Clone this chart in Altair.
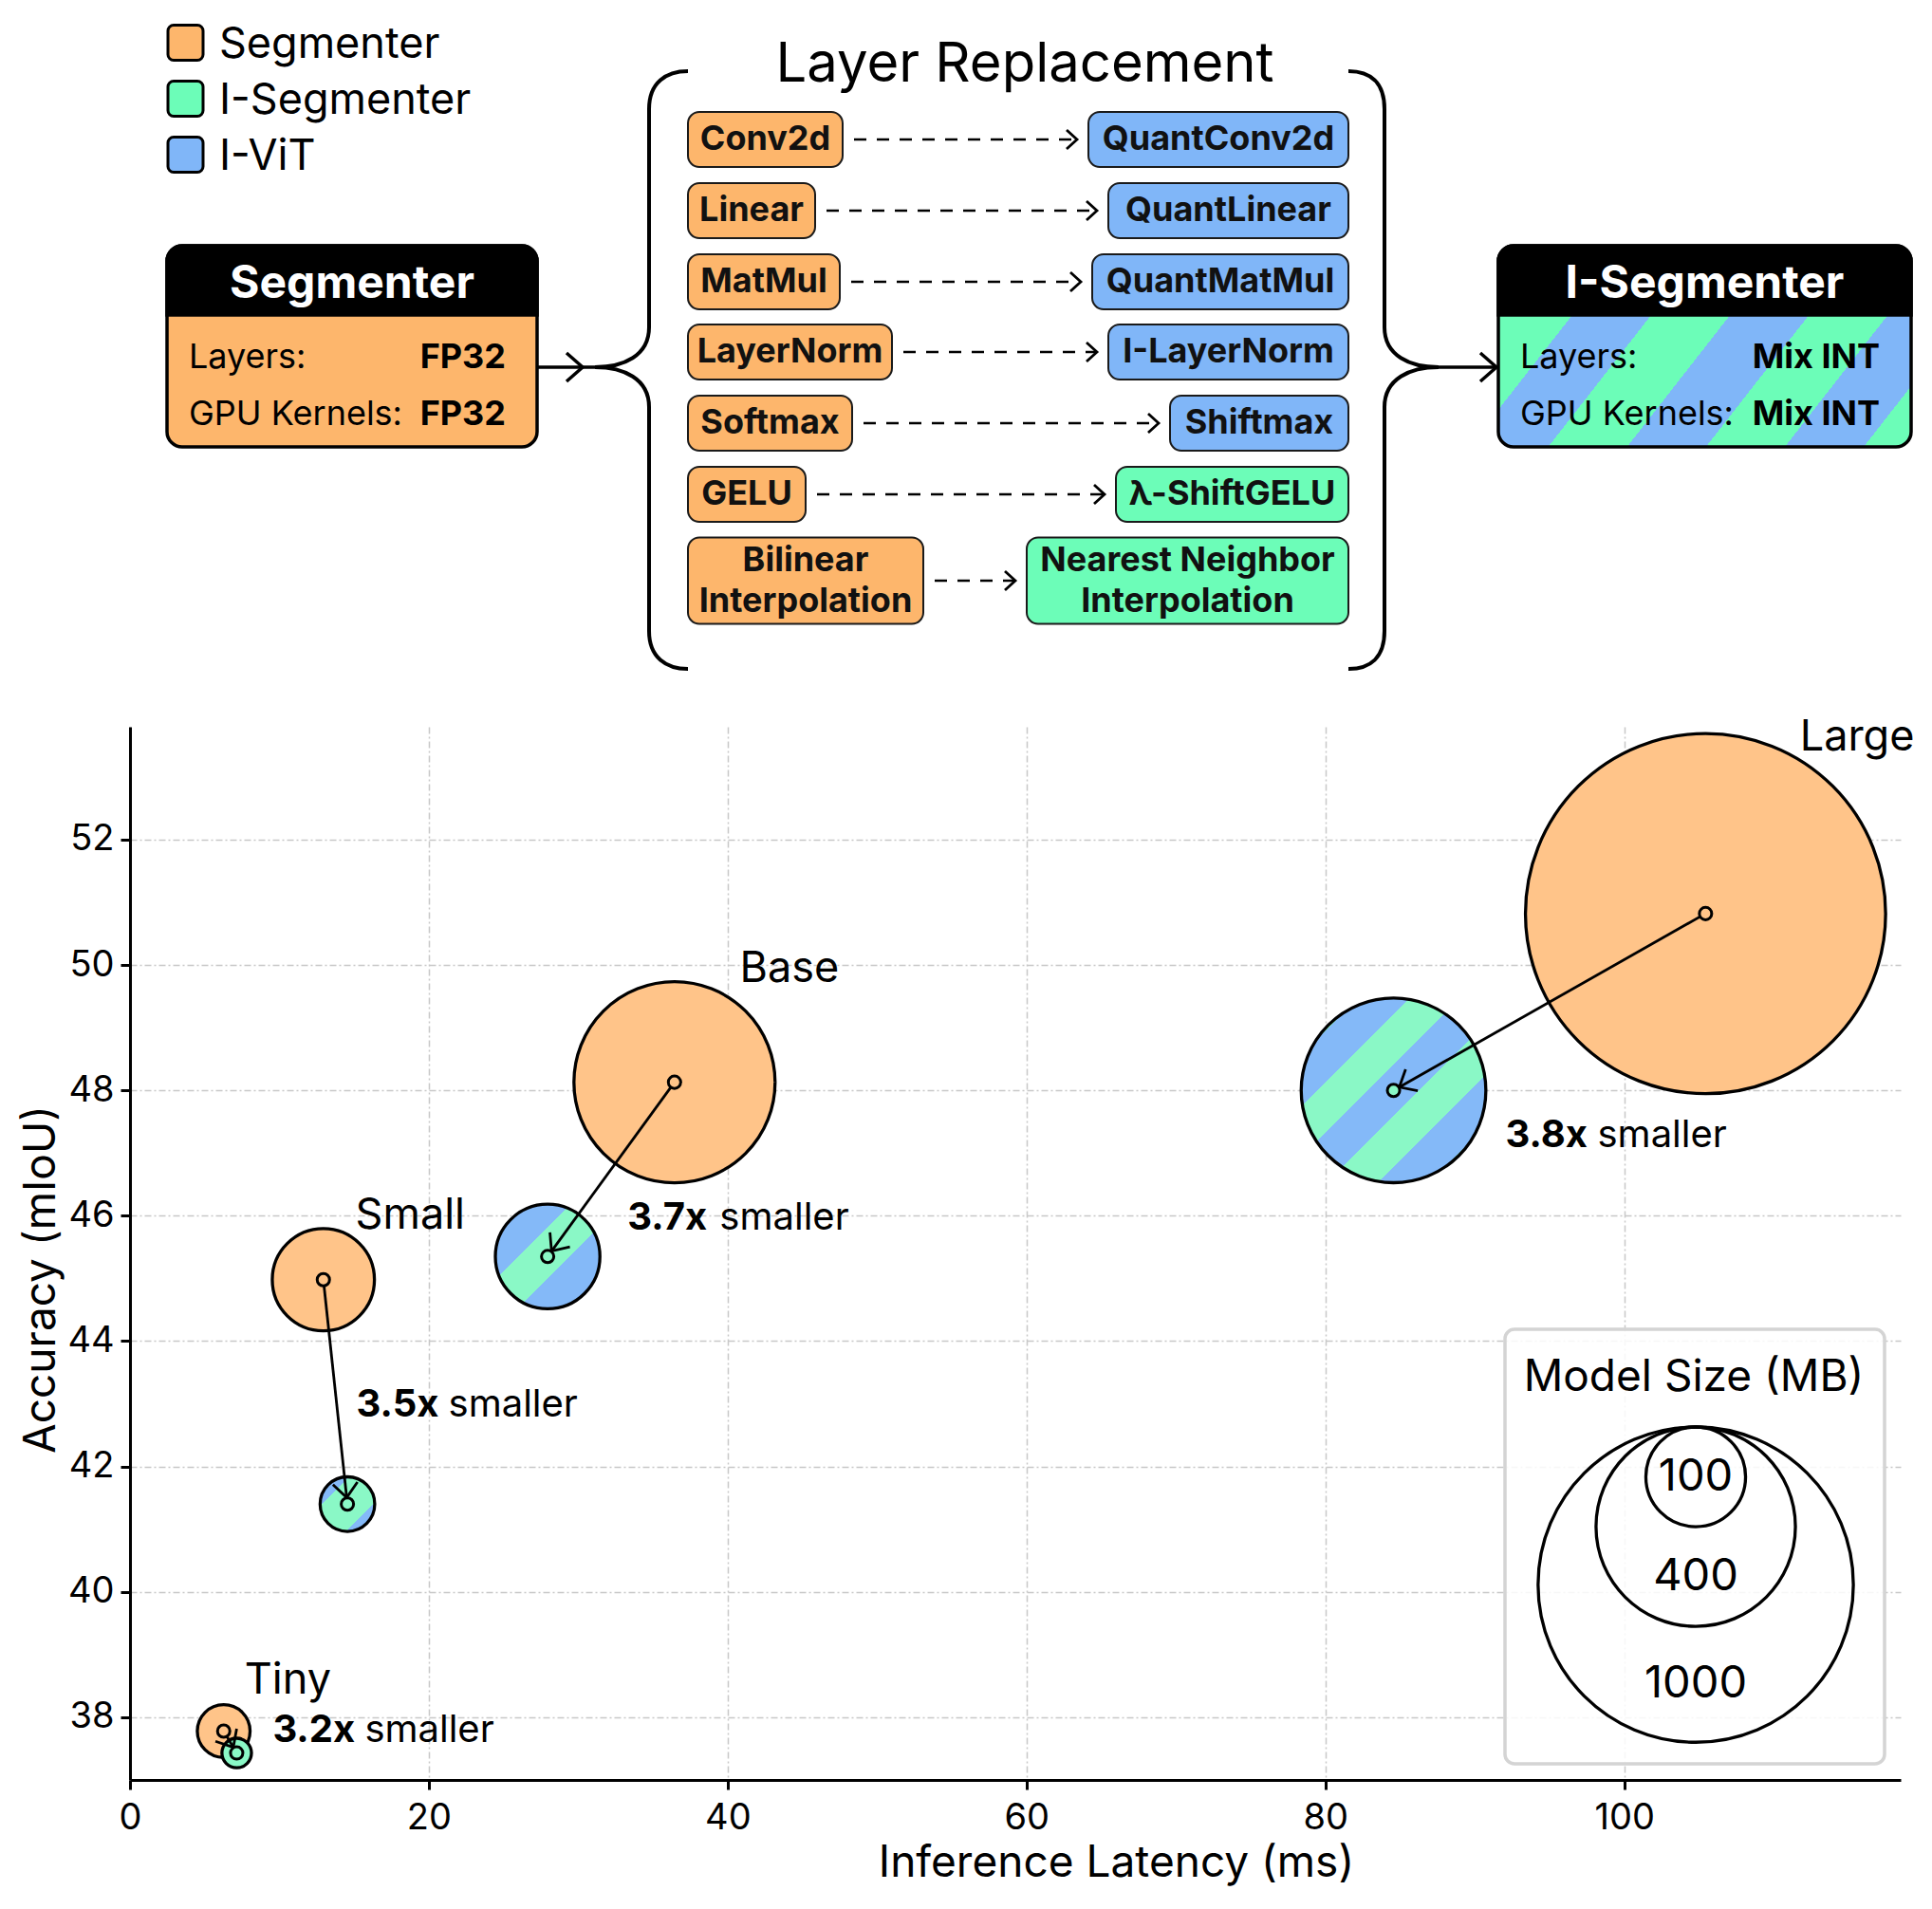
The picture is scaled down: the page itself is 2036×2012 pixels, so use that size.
import math
import altair as alt
import pandas as pd

FONT = "Inter"

# ---------------- data ----------------
models = ["Tiny", "Small", "Base", "Large"]
seg_latency_ms = [6.27, 12.94, 36.44, 105.44]
seg_miou = [37.78, 44.98, 48.13, 50.82]
seg_size_mb = [28, 105, 407, 1305]
iseg_latency_ms = [7.14, 14.55, 27.95, 84.56]
iseg_miou = [37.43, 41.40, 45.35, 48.00]
iseg_size_mb = [8.8, 30, 110, 343]
size_reduction = ["3.2x", "3.5x", "3.7x", "3.8x"]
reduction_word = "smaller"
size_legend_mb = [100, 400, 1000]
x_ticks = [0, 20, 40, 60, 80, 100]
y_ticks = [38, 40, 42, 44, 46, 48, 50, 52]

series_names = ["Segmenter", "I-Segmenter", "I-ViT"]
fp_layers = ["Conv2d", "Linear", "MatMul", "LayerNorm", "Softmax", "GELU",
             "Bilinear\nInterpolation"]
int_layers = ["QuantConv2d", "QuantLinear", "QuantMatMul", "I-LayerNorm", "Shiftmax",
              "\u03bb-ShiftGELU", "Nearest Neighbor\nInterpolation"]
int_layer_source = ["I-ViT", "I-ViT", "I-ViT", "I-ViT", "I-ViT", "I-Segmenter", "I-Segmenter"]
kernel_rows = ["Layers:", "GPU Kernels:"]
seg_precision = ["FP32", "FP32"]
iseg_precision = ["Mix INT", "Mix INT"]

# annotation anchors, in data coordinates (left edge / vertical middle of text)
model_label_lat = [7.67, 15.09, 40.8, 111.75]
model_label_miou = [38.59, 46.0, 49.94, 53.63]
ratio_label_lat = [9.55, 15.15, 33.3, 92.05]
ratio_label_miou = [37.78, 42.98, 45.96, 47.28]

# ---------------- layout / style ----------------
OX, OY = 137, 766            # page position of the plot origin
W, H = 1866, 1110
X_DOMAIN = [0, 118.5]
Y_DOMAIN = [37.0, 53.8]
SX = W / (X_DOMAIN[1] - X_DOMAIN[0])
SY = H / (Y_DOMAIN[1] - Y_DOMAIN[0])
SIZE_PER_MB = 110.4          # symbol area (bbox px^2) per MB

ORANGE, GREEN, BLUE = "#FDB66C", "#6CFDB8", "#80B6F8"
ORANGE_L, GREEN_L, BLUE_L = "#FFC489", "#8AF8C6", "#84B9F8"


def rx(v):
    return v - OX


def ry(v):
    return v - OY


def stripes(w, h, period, d0, first, second, theta=45.0):
    """Hard-stop linear gradient giving '/' stripes at angle theta (deg from horizontal)."""
    st, ct = math.sin(math.radians(theta)), math.cos(math.radians(theta))
    L = w * st + h * ct
    half = period / 2
    k = math.floor(-d0 / half) - 1
    stops = []
    while d0 + k * half < L:
        a = d0 + k * half
        b = a + half
        col = first if k % 2 == 0 else second
        lo, hi = max(a, 0.0), min(b, L)
        if hi > lo:
            stops.append({"offset": round(lo / L, 4), "color": col})
            stops.append({"offset": round(hi / L, 4), "color": col})
        k += 1
    a_ = L / (w * w * st * st + h * h * ct * ct)
    return {"gradient": "linear", "x1": 0, "y1": 0, "x2": round(a_ * w * st, 4),
            "y2": round(a_ * h * ct, 4), "stops": stops}


kind_scale = alt.Scale(domain=series_names, range=[ORANGE, GREEN, BLUE])
xscale = alt.Scale(domain=X_DOMAIN, nice=False, zero=False)
yscale = alt.Scale(domain=Y_DOMAIN, nice=False, zero=False)
sscale = alt.Scale(type="linear", domain=[0, 1000], range=[0, 1000 * SIZE_PER_MB],
                   nice=False, zero=True)

axis_common = dict(
    domainColor="black", domainWidth=3, tickColor="black", tickWidth=3, tickSize=10,
    labelFont=FONT, labelFontSize=38, labelColor="black", labelFlush=False,
    titleFont=FONT, titleFontSize=46, titleFontWeight="normal", titleColor="black",
    grid=True, gridColor="#c8c8c8", gridDash=[7, 3, 2, 3], gridWidth=1.5,
)
x_axis = alt.Axis(values=x_ticks, labelPadding=11, titleX=1039, titleY=101,
                  titleBaseline="alphabetic", titleAlign="center", **axis_common)
y_axis = alt.Axis(values=y_ticks, labelPadding=7, titleX=-94, titleY=582, titleAngle=270,
                  titleBaseline="middle", titleAlign="center", **axis_common)
X_TITLE = "Inference Latency (ms)"
Y_TITLE = "Accuracy (mIoU)"


def XQ(f):
    return alt.X(f, type="quantitative", scale=xscale, axis=x_axis, title=X_TITLE)


def YQ(f):
    return alt.Y(f, type="quantitative", scale=yscale, axis=y_axis, title=Y_TITLE)


def XP(f):
    return alt.X(f, type="quantitative", scale=None)


def YP(f):
    return alt.Y(f, type="quantitative", scale=None)


SIZE = alt.Size("mb:Q", scale=sscale, legend=None)
HEAD = "M-22,-13L-7,0L-22,13"
CHEV_BIG = "M-17,-15L0,0L-17,15"
CHEV_SMALL = "M-11,-10L0,0L-11,10"
TOP_CIRCLE = "M0,0A1,1,0,1,1,0,2A1,1,0,1,1,0,0Z"
BRACE_L = ("M98,-312C75,-312,57,-300,57,-272L57,-42C57,-12,30,0,0,0"
           "C30,0,57,12,57,42L57,278C57,306,75,318,98,318")
BRACE_R = ("M-95,-312C-72,-312,-57,-300,-57,-272L-57,-42C-57,-12,-30,0,0,0"
           "C-30,0,-57,12,-57,42L-57,278C-57,306,-72,318,-95,318")

layers = []

# ---------------- scatter ----------------
seg = pd.DataFrame({"model": models, "lat": seg_latency_ms, "miou": seg_miou, "mb": seg_size_mb})
iseg = pd.DataFrame({"model": models, "lat": iseg_latency_ms, "miou": iseg_miou, "mb": iseg_size_mb})

layers.append(alt.Chart(seg).mark_point(shape="circle", filled=True, fill=ORANGE_L, stroke="black",
                                        strokeWidth=3.3, opacity=1)
              .encode(x=XQ("lat"), y=YQ("miou"), size=SIZE))

stripe_center = [(GREEN_L, 0.5), (GREEN_L, 0.5), (GREEN_L, 0.57), (BLUE_L, 0.5)]
CIRCLE_PERIOD = 76
for i in range(len(models)):
    D = math.sqrt(SIZE_PER_MB * iseg_size_mb[i])
    L = D * math.sqrt(2)
    col, frac = stripe_center[i]
    other = BLUE_L if col == GREEN_L else GREEN_L
    grad = stripes(D, D, CIRCLE_PERIOD, L / 2 - frac * CIRCLE_PERIOD / 2, col, other)
    layers.append(alt.Chart(iseg.iloc[[i]]).mark_point(shape="circle", filled=True, fill=grad,
                                                      stroke="black", strokeWidth=3.3, opacity=1)
                  .encode(x=XQ("lat"), y=YQ("miou"), size=SIZE))

arr = pd.DataFrame({"lat": seg_latency_ms, "miou": seg_miou,
                    "lat2": iseg_latency_ms, "miou2": iseg_miou})
arr["ang"] = [math.degrees(math.atan2(-(m2 - m1) * SY, (l2 - l1) * SX)) % 360
              for l1, m1, l2, m2 in zip(arr.lat, arr.miou, arr.lat2, arr.miou2)]
layers.append(alt.Chart(arr).mark_rule(color="black", strokeWidth=2.8)
              .encode(x=XQ("lat"), y=YQ("miou"), x2=alt.X2("lat2"), y2=alt.Y2("miou2")))
layers.append(alt.Chart(arr).mark_point(shape=HEAD, size=4, filled=False, stroke="black",
                                        strokeWidth=2.8, opacity=1)
              .encode(x=XQ("lat2"), y=YQ("miou2"), angle=alt.Angle("ang:Q", scale=None)))
layers.append(alt.Chart(seg).mark_point(shape="circle", size=170, filled=True, fill=ORANGE_L,
                                        stroke="black", strokeWidth=3, opacity=1)
              .encode(x=XQ("lat"), y=YQ("miou")))
layers.append(alt.Chart(iseg).mark_point(shape="circle", size=170, filled=True, fill=GREEN_L,
                                         stroke="black", strokeWidth=3, opacity=1)
              .encode(x=XQ("lat"), y=YQ("miou")))

lab = pd.DataFrame({"model": models, "lx": model_label_lat, "ly": model_label_miou})
layers.append(alt.Chart(lab).mark_text(align="left", baseline="middle", font=FONT, fontSize=45,
                                       color="black")
              .encode(x=XQ("lx"), y=YQ("ly"), text="model:N"))
rat = pd.DataFrame({"r": size_reduction, "w": [reduction_word] * 4,
                    "lx": ratio_label_lat, "ly": ratio_label_miou})
layers.append(alt.Chart(rat).mark_text(align="left", baseline="middle", font=FONT, fontSize=40,
                                       fontWeight="bold", color="black")
              .encode(x=XQ("lx"), y=YQ("ly"), text="r:N"))
layers.append(alt.Chart(rat).mark_text(align="left", baseline="middle", font=FONT, fontSize=40,
                                       dx=97, color="black")
              .encode(x=XQ("lx"), y=YQ("ly"), text="w:N"))

# ---------------- size legend ----------------
one = pd.DataFrame({"k": [0]})
layers.append(alt.Chart(one).mark_rect(cornerRadius=10, fill="white", fillOpacity=0.85,
                                       stroke="#d4d4d4", strokeWidth=3.5)
              .encode(x=alt.value(rx(1586)), x2=alt.value(rx(1986)),
                      y=alt.value(ry(1401)), y2=alt.value(ry(1859))))
layers.append(alt.Chart(one).mark_text(text="Model Size (MB)", font=FONT, fontSize=46,
                                       align="center", baseline="middle", color="black")
              .encode(x=alt.value(rx(1785)), y=alt.value(ry(1452))))
LEG_TOP = ry(1504)
LEG_X = rx(1787)
leg_r = [math.sqrt(SIZE_PER_MB * m) / 2 for m in size_legend_mb]
leg_df = pd.DataFrame({
    "mb": size_legend_mb,
    "txt": [str(m) for m in size_legend_mb],
    "ly": [LEG_TOP + (leg_r[i - 1] if i > 0 else 0) + leg_r[i] for i in range(len(leg_r))],
})
layers.append(alt.Chart(leg_df).mark_point(shape=TOP_CIRCLE, filled=False, stroke="black",
                                           strokeWidth=3.3, opacity=1)
              .encode(x=alt.value(LEG_X), y=alt.value(LEG_TOP), size=SIZE))
layers.append(alt.Chart(leg_df).mark_text(font=FONT, fontSize=47, align="center",
                                          baseline="middle", color="black")
              .encode(x=alt.value(LEG_X), y=YP("ly"), text="txt:N"))

# ---------------- top diagram ----------------
LEG_CY = [45, 104, 163]
sq = pd.DataFrame({"name": series_names,
                   "x0": [rx(177)] * 3, "x1": [rx(214)] * 3,
                   "y0": [ry(c - 18.5) for c in LEG_CY], "y1": [ry(c + 18.5) for c in LEG_CY],
                   "tx": [rx(231)] * 3, "ty": [ry(c + 2) for c in LEG_CY]})
layers.append(alt.Chart(sq).mark_rect(cornerRadius=6, stroke="black", strokeWidth=3)
              .encode(x=XP("x0"), x2="x1", y=YP("y0"), y2="y1",
                      fill=alt.Fill("name:N", scale=kind_scale, legend=None)))
layers.append(alt.Chart(sq).mark_text(align="left", baseline="middle", font=FONT, fontSize=45,
                                      color="black")
              .encode(x=XP("tx"), y=YP("ty"), text="name:N"))

layers.append(alt.Chart(one).mark_text(text="Layer Replacement", font=FONT, fontSize=58,
                                       align="center", baseline="alphabetic", color="black")
              .encode(x=alt.value(rx(1080)), y=alt.value(ry(86))))

ROW_CY = [147, 222, 297, 371, 446, 521, 612]
ROW_H = [58, 58, 58, 58, 58, 58, 91]
LEFT_X0 = 725
LEFT_W = [163, 134, 160, 215, 173, 124, 248]
RIGHT_X1 = 1421
RIGHT_W = [274, 253, 270, 253, 188, 245, 339]
GAP = 12
LINE_H = 43

boxes, darr = [], []
for i in range(len(fp_layers)):
    cy, h = ROW_CY[i], ROW_H[i]
    lx0, lx1 = LEFT_X0, LEFT_X0 + LEFT_W[i]
    rx0, rx1 = RIGHT_X1 - RIGHT_W[i], RIGHT_X1
    for lbl, kind, a, b in ((fp_layers[i], "Segmenter", lx0, lx1),
                            (int_layers[i], int_layer_source[i], rx0, rx1)):
        nlines = lbl.count("\n") + 1
        boxes.append({"label": lbl, "kind": kind, "x0": rx(a), "x1": rx(b),
                      "y0": ry(cy - h / 2), "y1": ry(cy + h / 2), "cx": rx((a + b) / 2),
                      "ty": ry(cy - (nlines - 1) * LINE_H / 2)})
    darr.append({"xs": rx(lx1 + GAP), "xe": rx(rx0 - GAP), "y": ry(cy)})
boxes = pd.DataFrame(boxes)
darr = pd.DataFrame(darr)

layers.append(alt.Chart(boxes).mark_rect(cornerRadius=12, stroke="#1a1a1a", strokeWidth=2)
              .encode(x=XP("x0"), x2="x1", y=YP("y0"), y2="y1",
                      fill=alt.Fill("kind:N", scale=kind_scale, legend=None)))
layers.append(alt.Chart(boxes).mark_text(font=FONT, fontSize=36, fontWeight="bold", align="center",
                                         baseline="middle", lineBreak="\n", lineHeight=LINE_H,
                                         color="#111111")
              .encode(x=XP("cx"), y=YP("ty"), text="label:N"))
layers.append(alt.Chart(darr).mark_rule(color="black", strokeWidth=2.7, strokeDash=[13, 11])
              .encode(x=XP("xs"), x2="xe", y=YP("y")))
layers.append(alt.Chart(darr).mark_point(shape=CHEV_SMALL, size=4, filled=False, stroke="black",
                                         strokeWidth=2.8, opacity=1)
              .encode(x=XP("xe"), y=YP("y")))

# braces and connectors
TIP_Y = 387
brace_l = pd.DataFrame({"x": [rx(627)], "y": [ry(TIP_Y)]})
brace_r = pd.DataFrame({"x": [rx(1516)], "y": [ry(TIP_Y)]})
layers.append(alt.Chart(brace_l).mark_point(shape=BRACE_L, size=4, filled=False, stroke="black",
                                            strokeWidth=4, opacity=1)
              .encode(x=XP("x"), y=YP("y")))
layers.append(alt.Chart(brace_r).mark_point(shape=BRACE_R, size=4, filled=False, stroke="black",
                                            strokeWidth=4, opacity=1)
              .encode(x=XP("x"), y=YP("y")))

BOX_Y0, BOX_HDR, BOX_Y1 = 259, 332, 471
SEG_X = (176, 566)
ISEG_X = (1579, 2014)

conn = pd.DataFrame({"xs": [rx(SEG_X[1]), rx(1516)], "xe": [rx(627), rx(ISEG_X[0] - 2)],
                     "tip": [rx(614), rx(ISEG_X[0] - 2)], "y": [ry(TIP_Y)] * 2})
layers.append(alt.Chart(conn).mark_rule(color="black", strokeWidth=3.5)
              .encode(x=XP("xs"), x2="xe", y=YP("y")))
layers.append(alt.Chart(conn).mark_point(shape=CHEV_BIG, size=4, filled=False, stroke="black",
                                         strokeWidth=3.5, opacity=1)
              .encode(x=XP("tip"), y=YP("y")))

# model boxes
segbox = pd.DataFrame({"x0": [rx(SEG_X[0])], "x1": [rx(SEG_X[1])], "y0": [ry(BOX_Y0)], "y1": [ry(BOX_Y1)]})
isegbox = pd.DataFrame({"x0": [rx(ISEG_X[0])], "x1": [rx(ISEG_X[1])], "y0": [ry(BOX_Y0)], "y1": [ry(BOX_Y1)]})
layers.append(alt.Chart(segbox).mark_rect(cornerRadius=16, fill=ORANGE, stroke="black", strokeWidth=3.5)
              .encode(x=XP("x0"), x2="x1", y=YP("y0"), y2="y1"))
box_grad = stripes(ISEG_X[1] - ISEG_X[0], BOX_Y1 - BOX_Y0, 131, 40.9, GREEN, BLUE, theta=52)
layers.append(alt.Chart(isegbox).mark_rect(cornerRadius=16, fill=box_grad, stroke="black", strokeWidth=3.5)
              .encode(x=XP("x0"), x2="x1", y=YP("y0"), y2="y1"))
hdr = pd.DataFrame({"name": ["Segmenter", "I-Segmenter"],
                    "x0": [rx(SEG_X[0]), rx(ISEG_X[0])], "x1": [rx(SEG_X[1]), rx(ISEG_X[1])],
                    "y0": [ry(BOX_Y0)] * 2, "y1": [ry(BOX_HDR)] * 2,
                    "cx": [rx((SEG_X[0] + SEG_X[1]) / 2), rx((ISEG_X[0] + ISEG_X[1]) / 2)],
                    "ty": [ry(314)] * 2})
layers.append(alt.Chart(hdr).mark_rect(cornerRadiusTopLeft=16, cornerRadiusTopRight=16, fill="black",
                                       stroke="black", strokeWidth=3.5)
              .encode(x=XP("x0"), x2="x1", y=YP("y0"), y2="y1"))
layers.append(alt.Chart(hdr).mark_text(font=FONT, fontSize=48, fontWeight="bold", color="white",
                                       align="center", baseline="alphabetic")
              .encode(x=XP("cx"), y=YP("ty"), text="name:N"))
BODY_BASE = [388, 448]
body = []
for (x0, x1), prec in ((SEG_X, seg_precision), (ISEG_X, iseg_precision)):
    for j, row in enumerate(kernel_rows):
        body.append({"row": row, "prec": prec[j], "lx": rx(x0 + 23), "px": rx(x1 - 33),
                     "y": ry(BODY_BASE[j])})
body = pd.DataFrame(body)
layers.append(alt.Chart(body).mark_text(font=FONT, fontSize=36, align="left", baseline="alphabetic",
                                        color="black")
              .encode(x=XP("lx"), y=YP("y"), text="row:N"))
layers.append(alt.Chart(body).mark_text(font=FONT, fontSize=36, fontWeight="bold", align="right",
                                        baseline="alphabetic", color="black")
              .encode(x=XP("px"), y=YP("y"), text="prec:N"))

chart = alt.layer(*layers).properties(
    width=W, height=H,
    autosize=alt.AutoSizeParams(type="none"),
    padding={"left": OX - 8, "top": OY - 8, "right": 2020 - (OX - 8) - W, "bottom": 122},
).configure_view(strokeWidth=0)

chart.save("out.html", embed_options={"renderer": "svg", "actions": False})
